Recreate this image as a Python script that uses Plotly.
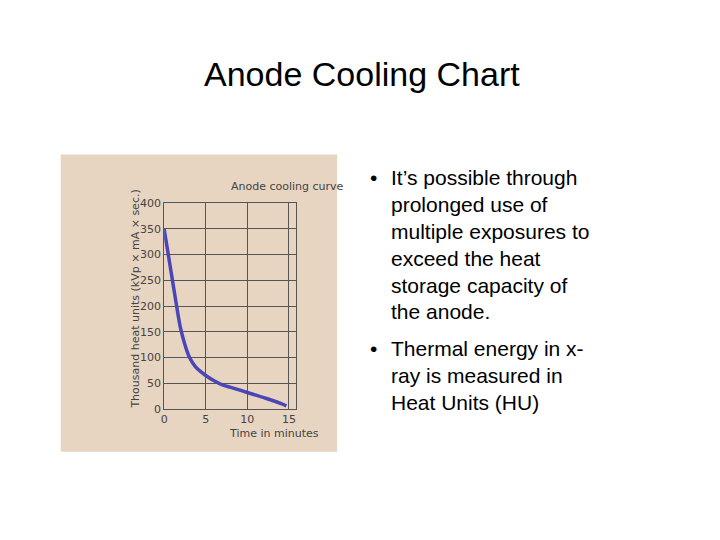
import plotly.graph_objects as go

# Anode cooling curve
minutes = [0, 0.5, 1, 1.5, 2, 2.5, 3, 3.5, 4, 5, 6, 7, 8, 10, 12, 14, 14.7]
heat_k = [350, 300, 250, 200, 155, 125, 102, 88, 78, 65, 55, 47, 42, 32, 22, 11, 6]
x_ticks = [0, 5, 10, 15]
y_ticks = [0, 50, 100, 150, 200, 250, 300, 350, 400]

# page body has an 8px margin, so the figure is a bit smaller than the window
OFF = 8
W, H = 720 - 2 * OFF, 540 - 2 * OFF

def px(x):
    return (x - OFF) / W

def py(y):
    return 1 - (y - OFF) / H

fig = go.Figure()
fig.add_trace(go.Scatter(x=minutes, y=heat_k, mode="lines",
                         line=dict(color="#4a46b8", width=3.5, shape="spline")))

font_chart = dict(family="DejaVu Sans", size=11, color="#444")

fig.update_layout(
    width=W, height=H,
    margin=dict(l=0, r=0, t=0, b=0),
    paper_bgcolor="white",
    plot_bgcolor="rgba(0,0,0,0)",
    showlegend=False,
    xaxis=dict(domain=[px(161), px(294)], range=[0, 15.9], tickvals=x_ticks, showgrid=True,
               gridcolor="#555", gridwidth=1, zeroline=False, showline=True, linecolor="#555",
               mirror=True, tickfont=font_chart, ticks="", ticklabelstandoff=0),
    yaxis=dict(domain=[py(413), py(202)], range=[0, 400], tickvals=y_ticks, showgrid=True,
               gridcolor="#555", gridwidth=1, zeroline=False, showline=True, linecolor="#555",
               mirror=True, tickfont=font_chart, ticks=""),
    shapes=[dict(type="rect", xref="paper", yref="paper", x0=px(57), x1=px(335), y0=py(457), y1=py(152),
                 fillcolor="#e7d4c1", line=dict(width=0), layer="below")],
)

ann = [
    dict(text="Anode Cooling Chart", x=px(360), y=py(70), font=dict(family="Liberation Sans", size=34, color="black")),
    dict(text="Anode cooling curve", x=px(226), y=py(185), font=font_chart),
    dict(text="Time in minutes", x=px(224), y=py(438), font=font_chart),
    dict(text="Thousand heat units (kVp × mA × sec.)", x=px(124), y=py(300), textangle=-90, font=font_chart),
]
fig.update_layout(annotations=[dict(a, xref="paper", yref="paper", showarrow=False, yanchor="middle")
                               for a in ann])

bullets = [
    ["It’s possible through", "prolonged use of", "multiple exposures to", "exceed the heat",
     "storage capacity of", "the anode."],
    ["Thermal energy in x-", "ray is measured in", "Heat Units (HU)"],
]
tf = dict(family="Liberation Sans", size=21, color="black")
y = 176
for lines in bullets:
    fig.add_annotation(text="•", x=px(366), y=py(y), xref="paper", yref="paper", showarrow=False,
                       xanchor="left", yanchor="middle", font=tf)
    for line in lines:
        fig.add_annotation(text=line, x=px(387), y=py(y), xref="paper", yref="paper", showarrow=False,
                           xanchor="left", yanchor="middle", font=tf)
        y += 27.5
    y += 10

fig.write_html("out.html")
